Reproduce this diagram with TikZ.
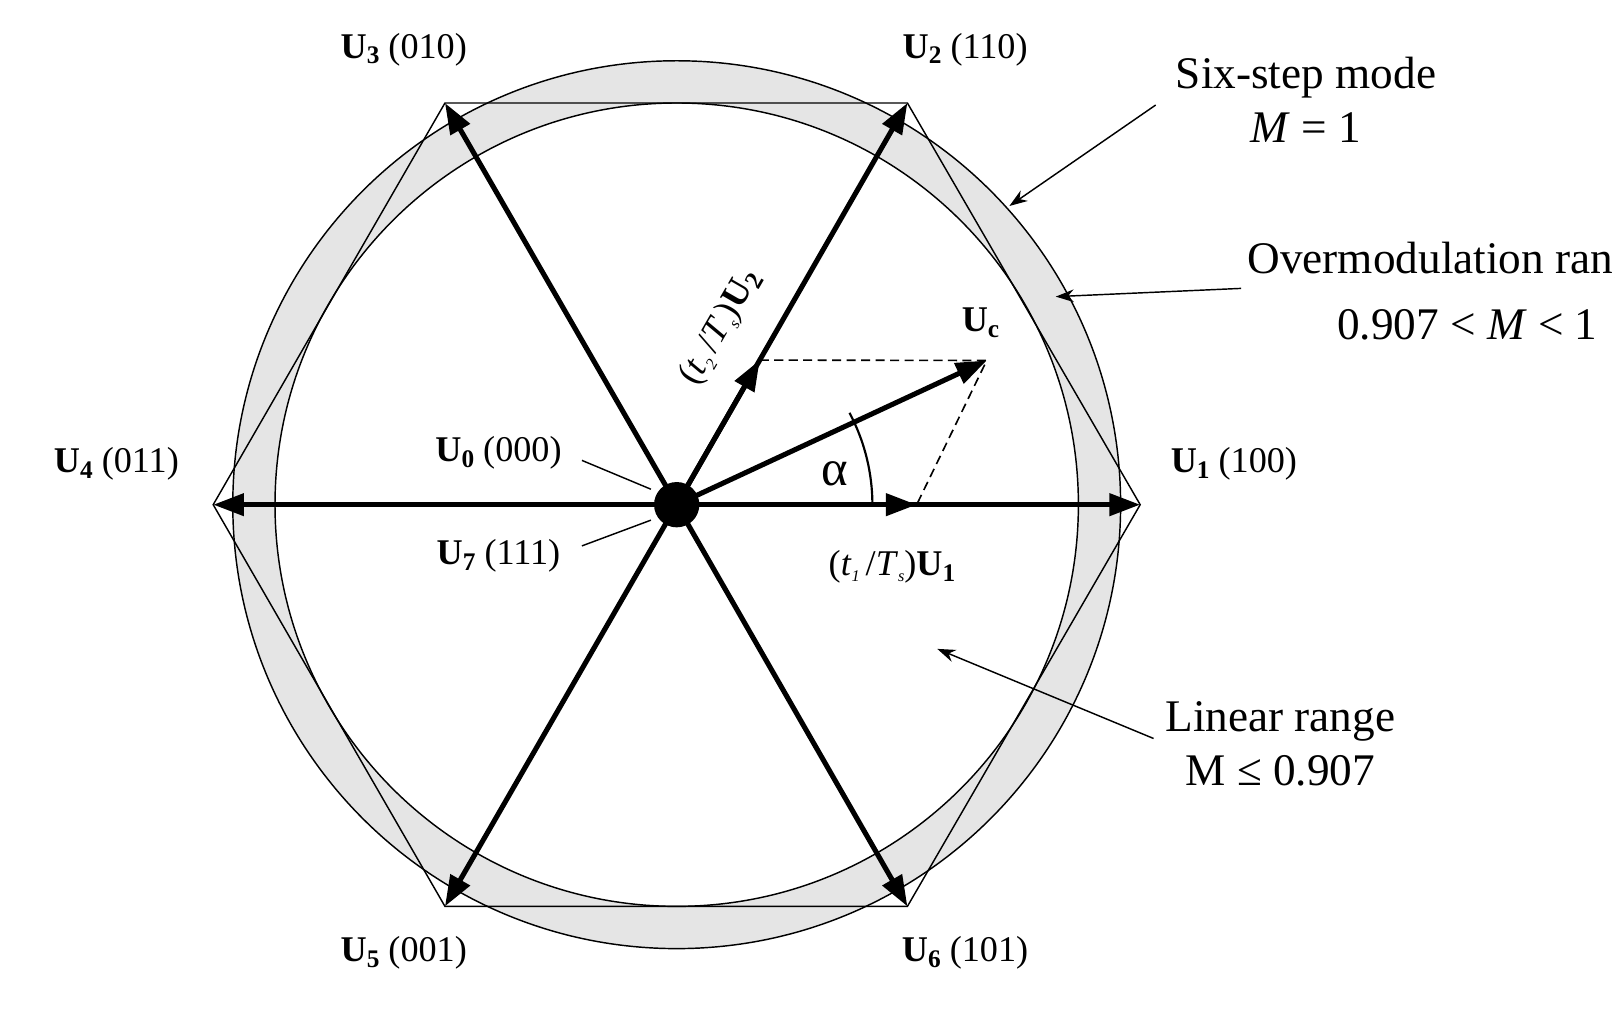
\documentclass[tikz,border=0pt]{standalone}
\usepackage{fontspec}
\setmainfont{Liberation Serif}
\usetikzlibrary{arrows.meta,calc}
\newcommand{\Ub}[1]{\textbf{U}\raisebox{-0.35ex}{\fontsize{14}{14}\selectfont\bfseries #1}}
\begin{document}
\begin{tikzpicture}[x=0.02cm,y=-0.02cm,
  vec/.style={line width=2.8pt,-{Triangle[length=17pt,width=12pt]}},
  lbl/.style={font=\fontsize{20}{24}\selectfont},
  big/.style={font=\fontsize{25}{30}\selectfont},
  thin/.style={line width=0.8pt,-{Stealth[length=10pt,width=7pt]}}]
\useasboundingbox (0,0) rectangle (1568,986);
\coordinate (O) at (657,490);
\coordinate (V1) at (1107,490);
\coordinate (V2) at (881,100);
\coordinate (V3) at (432,100);
\coordinate (V4) at (207,490);
\coordinate (V5) at (432,880);
\coordinate (V6) at (881,880);
\fill[gray!20,even odd rule] (O) circle (431) (O) circle (390);
\draw[line width=0.8pt] (O) circle (431);
\draw[line width=0.8pt] (O) circle (390);
\draw[line width=0.8pt] (V1)--(V2)--(V3)--(V4)--(V5)--(V6)--cycle;
\foreach \v in {V1,V2,V3,V4,V5,V6} \draw[vec] (O) -- (\v);
\coordinate (A2) at ($(O)!0.36!(V2)$);
\coordinate (A1) at (890,490);
\coordinate (C) at (958,350);
\draw[vec] (O) -- (C);
\draw[vec] (O) -- (A2);
\draw[vec] (O) -- (A1);
\draw[dashed,line width=0.9pt,dash pattern=on 5pt off 3pt] (A2) -- (C) -- (A1);
\fill (O) circle (22);
\draw[line width=1.2pt] (847,490) arc (0:-28:190);
\node[font=\fontsize{28}{30}\selectfont] (al) at (810,460) {α};
\node[lbl] (Uc) at (952,313) {\Ub{c}};
\node[lbl,rotate=60] (t2) at (700,318) {(\textit{t}\raisebox{-0.4ex}{\itshape\small 2}\,/\textit{T}\raisebox{-0.4ex}{\itshape\small s})\Ub{2}};
\node[lbl] (t1) at (866,550) {(\textit{t}\raisebox{-0.4ex}{\itshape\small 1}\,/\textit{T}\raisebox{-0.4ex}{\itshape\small s})\Ub{1}};
\node[lbl] (L3) at (392,48) {\Ub{3} (010)};
\node[lbl] (L2) at (937,48) {\Ub{2} (110)};
\node[lbl] (L4) at (113,450) {\Ub{4} (011)};
\node[lbl] (L1) at (1198,450) {\Ub{1} (100)};
\node[lbl] (L5) at (392,925) {\Ub{5} (001)};
\node[lbl] (L6) at (937,925) {\Ub{6} (101)};
\node[lbl] (L0) at (484,440) {\Ub{0} (000)};
\node[lbl] (L7) at (484,540) {\Ub{7} (111)};
\coordinate (p0) at (632,475); \coordinate (p7) at (632,505);
\draw[line width=0.8pt] (565,447) -- (p0);
\draw[line width=0.8pt] (565,530) -- (p7);
\node[big,align=center] (six) at (1268,97) {Six-step mode\\\textit{M} = 1};
\node[big,anchor=west] (ov) at (1205,255) {Overmodulation range};
\node[big,anchor=west] (ov2) at (1292,315) {0.907 < \textit{M} < 1};
\node[big,align=center] (lin) at (1243,722) {Linear range\\M ≤ 0.907};
\coordinate (e1) at (980,200); \coordinate (e2) at (1025,288); \coordinate (e3) at (910,630);
\draw[thin] (1122,102) -- (e1);
\draw[thin] (1205,280) -- (e2);
\draw[thin] (1120,717) -- (e3);
\end{tikzpicture}
\end{document}
